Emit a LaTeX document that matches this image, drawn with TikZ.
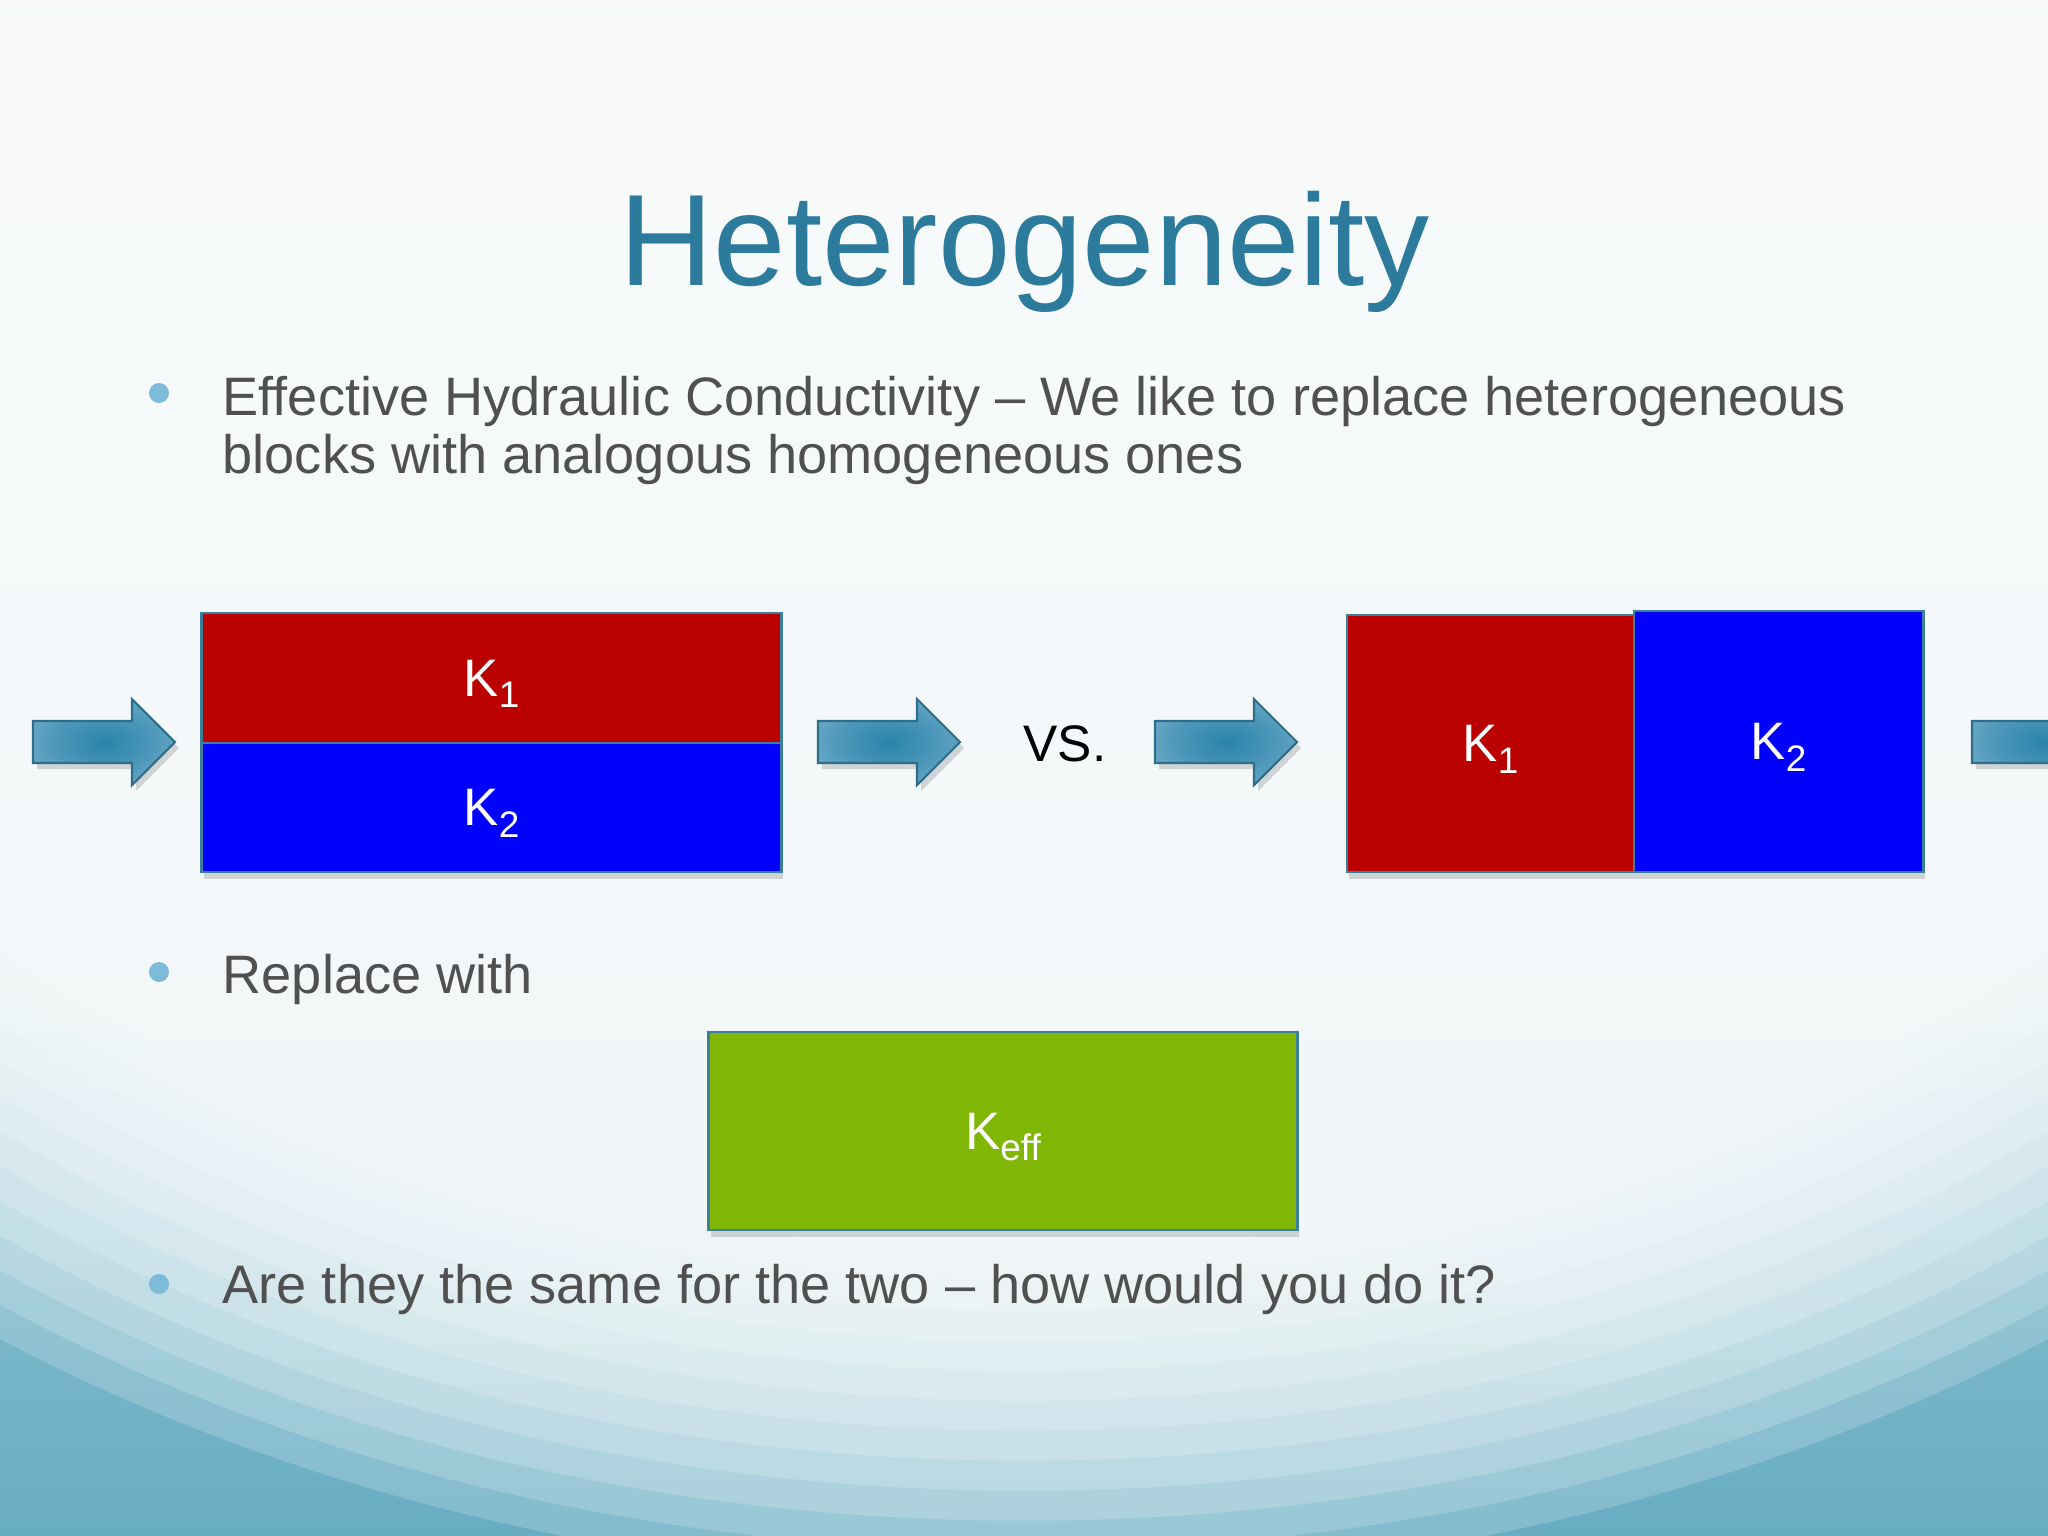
\documentclass[tikz,border=0pt]{standalone}
\usepackage{fontspec}
\setmainfont{Liberation Sans}
\usetikzlibrary{shadows}
\definecolor{titlec}{HTML}{2C7B9D}
\definecolor{bodyc}{HTML}{505050}
\definecolor{bulc}{HTML}{7DBBD8}
\definecolor{kred}{HTML}{BB0000}
\definecolor{kblue}{HTML}{0000FF}
\definecolor{kgreen}{HTML}{80B606}
\definecolor{edgec}{HTML}{3B7F9D}
\definecolor{arrdark}{HTML}{2A84AA}
\definecolor{arrmid}{HTML}{4F98BA}
\definecolor{arrlight}{HTML}{A2CBDF}
\definecolor{arredge}{HTML}{2D6F8B}
\definecolor{bgtop}{HTML}{DCEDF3}
\definecolor{bgmid}{HTML}{A8D0DC}
\definecolor{bgbot}{HTML}{69ADC3}
\pgfdeclareradialshading{arrowshade}{\pgfpoint{0bp}{0bp}}{color(0bp)=(arrdark); color(18bp)=(arrmid); color(50bp)=(arrlight)}
\newcommand\ksub[2]{#1\raisebox{-0.22em}{\fontsize{10.5pt}{10.5pt}\selectfont #2}}
\tikzset{
 blockbox/.style={draw=edgec, line width=0.8pt, inner sep=0pt, text=white,
   font=\fontsize{15pt}{18pt}\selectfont, text depth=0pt,
   drop shadow={shadow xshift=0.5pt, shadow yshift=-2pt, opacity=0.25, fill=black!60}},
 bodytext/.style={anchor=base west, inner sep=0pt, text=bodyc, font=\fontsize{15.4pt}{18pt}\selectfont},
 bulletdot/.style={circle, fill=bulc, inner sep=0pt, minimum size=0.2cm},
 bglayer/.style={white, opacity=0.18},
 flowarrow/.pic={
   \fill[black, opacity=0.15, shift={(4,6)}] (0,-21) -- (99,-21) -- (99,-43) -- (142,0) -- (99,43) -- (99,21) -- (0,21) -- cycle;
   \shadedraw[draw=arredge, line width=0.6pt, shading=arrowshade] (0,-21) -- (99,-21) -- (99,-43) -- (142,0) -- (99,43) -- (99,21) -- (0,21) -- cycle;
 }
}
\begin{document}
\begin{tikzpicture}[x=0.01cm, y=-0.01cm]
\useasboundingbox (0,0) rectangle (2048,1536);
% background
\shade[top color=bgtop, middle color=bgmid, bottom color=bgbot] (0,0) rectangle (2048,1536);
\begin{scope}
\clip (0,0) rectangle (2048,1536);
\foreach \i in {0,...,11} {
  \pgfmathsetmacro\rx{17.5-0.318*\i}
  \pgfmathsetmacro\ry{12.8-0.3*\i}
  \fill[bglayer] (1024,300) ellipse [x radius=\rx cm, y radius=\ry cm];
}
\end{scope}

% title
\node[anchor=base, inner sep=0pt, text=titlec, font=\fontsize{37pt}{44pt}\selectfont] (title) at (1025,285) {Heterogeneity};

% bullets
\node[bulletdot] (b1) at (159,393) {};
\node[bodytext] (t1) at (222,415) {Effective Hydraulic Conductivity – We like to replace heterogeneous};
\node[bodytext] (t2) at (222,473) {blocks with analogous homogeneous ones};
\node[bulletdot] (b2) at (159,972) {};
\node[bodytext] (t3) at (222,993) {Replace with};
\node[bulletdot] (b3) at (159,1284) {};
\node[bodytext] (t4) at (222,1303) {Are they the same for the two – how would you do it?};

% arrows
\pic (a1) at (33,742) {flowarrow};
\pic (a2) at (818,742) {flowarrow};
\pic (a3) at (1155,742) {flowarrow};
\pic (a4) at (1972,742) {flowarrow};

% left stacked blocks
\node[blockbox, fill=kred, minimum width=5.79cm, minimum height=1.30cm] (lk1) at (491.5,678) {\ksub{K}{1}};
\node[blockbox, fill=kblue, minimum width=5.79cm, minimum height=1.29cm] (lk2) at (491.5,807.5) {\ksub{K}{2}};

% vs
\node[anchor=base west, inner sep=0pt, text=black, font=\fontsize{14.6pt}{18pt}\selectfont] (vs) at (1023,761) {VS.};

% right side-by-side blocks
\node[blockbox, fill=kred, minimum width=2.87cm, minimum height=2.57cm] (rk1) at (1490.5,743.5) {\ksub{K}{1}};
\node[blockbox, fill=kblue, minimum width=2.89cm, minimum height=2.61cm] (rk2) at (1778.5,741.5) {\ksub{K}{2}};

% effective block
\node[blockbox, fill=kgreen, minimum width=5.88cm, minimum height=1.98cm] (keff) at (1003,1131) {\ksub{K}{eff}};
\end{tikzpicture}
\end{document}
